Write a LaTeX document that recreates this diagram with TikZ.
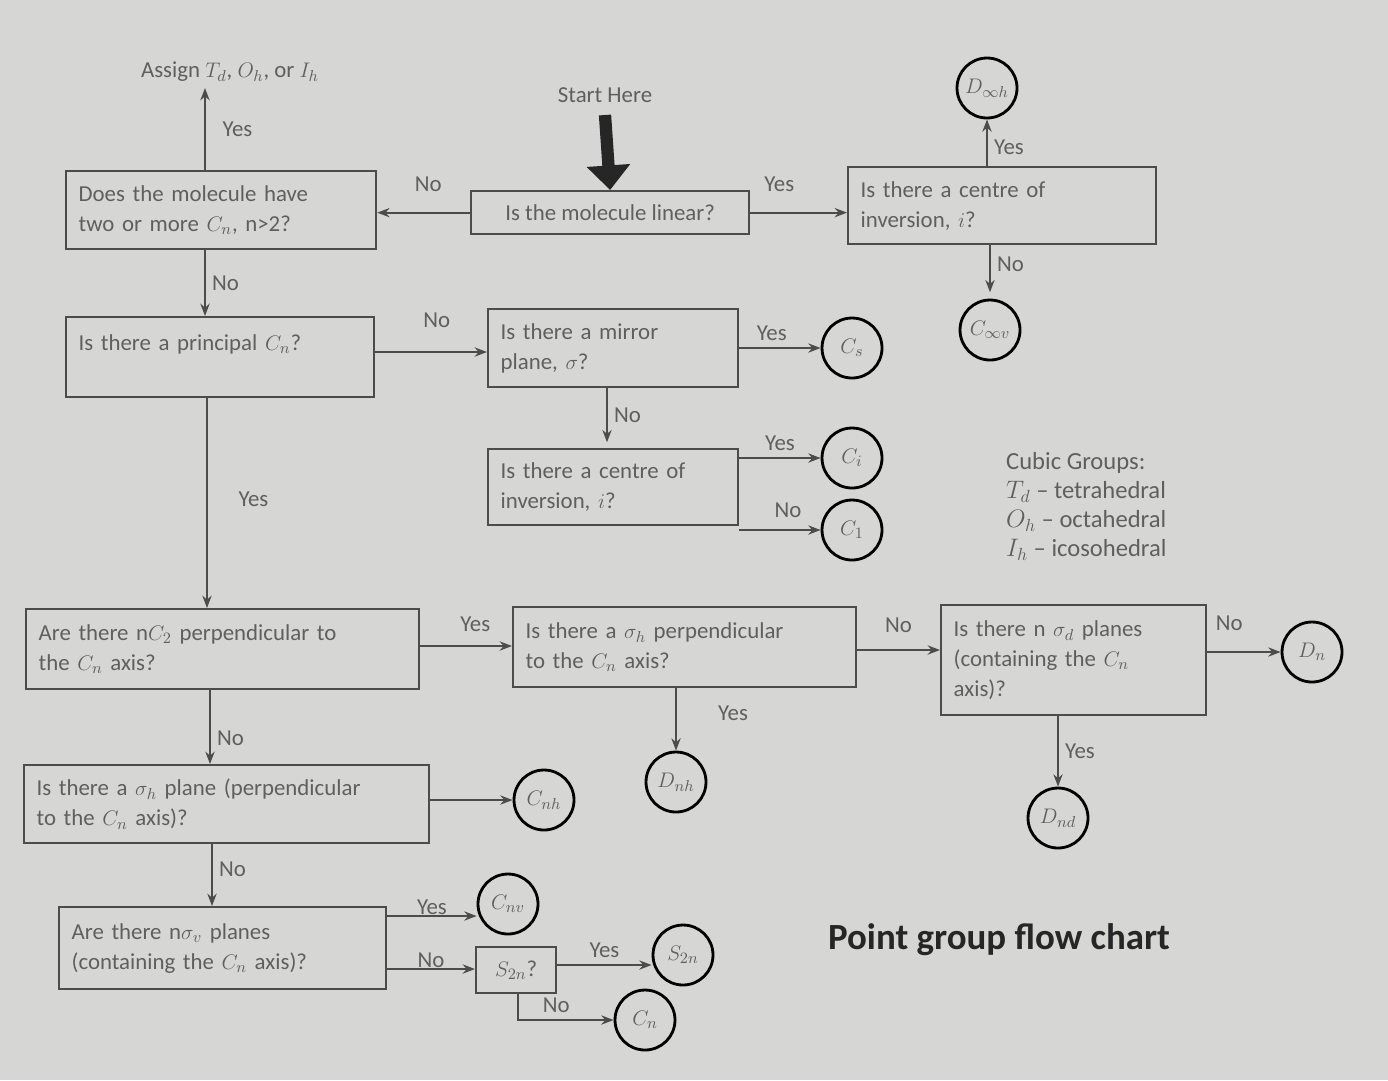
\documentclass[tikz,border=0pt]{standalone}
\usepackage{fontspec}
\setmainfont{Carlito}
\usetikzlibrary{calc,arrows.meta}
\definecolor{bg}{RGB}{214,214,212}
\definecolor{ink}{RGB}{95,95,95}
\begin{document}
\begin{tikzpicture}[x=0.02cm,y=-0.02cm,font=\fontsize{13}{17}\selectfont,text=ink,
 box/.style={draw=ink!80!black,line width=1.3pt,anchor=north west,align=left,inner sep=7pt},
 res/.style={circle,draw=black,line width=1.6pt,minimum size=1.2cm,inner sep=0pt},
 arr/.style={draw=ink!80!black,line width=1.3pt,-{Stealth[length=7pt]}},
 lab/.style={text=ink}]
\fill[bg] (0,0) rectangle (1388,1080);
\useasboundingbox (0,0) rectangle (1388,1080);
% boxes
\node[box,minimum width=6.2cm,minimum height=1.56cm,text width=5.7cm] (b1) at (65,170) {Does the molecule have\\two or more $C_n$, n>2?};
\node[box,minimum width=5.56cm,minimum height=0.86cm,align=center] (lin) at (470,190) {Is the molecule linear?};
\node[box,minimum width=6.16cm,minimum height=1.54cm,text width=5.66cm] (inv) at (847,166) {Is there a centre of\\inversion, $i$?};
\node[box,minimum width=6.16cm,minimum height=1.6cm,text width=5.66cm] (pri) at (65,316) {Is there a principal $C_n$?\\\mbox{}};
\node[box,minimum width=5cm,minimum height=1.56cm,text width=4.5cm] (mir) at (487,308) {Is there a mirror\\plane, $\sigma$?};
\node[box,minimum width=5cm,minimum height=1.52cm,text width=4.5cm] (cen) at (487,448) {Is there a centre of\\inversion, $i$?};
\node[box,minimum width=7.86cm,minimum height=1.6cm,text width=7.36cm] (nc2) at (25,608) {Are there n$C_2$ perpendicular to\\the $C_n$ axis?};
\node[box,minimum width=6.86cm,minimum height=1.6cm,text width=6.36cm] (sh) at (512,606) {Is there a $\sigma_h$ perpendicular\\to the $C_n$ axis?};
\node[box,minimum width=5.3cm,minimum height=2.2cm,text width=4.8cm] (sd) at (940,604) {Is there n $\sigma_d$ planes\\(containing the $C_n$\\axis)?};
\node[box,minimum width=8.1cm,minimum height=1.56cm,text width=7.6cm] (shp) at (23,764) {Is there a $\sigma_h$ plane (perpendicular\\to the $C_n$ axis)?};
\node[box,minimum width=6.54cm,minimum height=1.64cm,text width=6.04cm] (sv) at (58,906) {Are there n$\sigma_v$ planes\\(containing the $C_n$ axis)?};
\node[box,minimum width=1.6cm,minimum height=0.92cm,inner sep=3pt,align=center] (s2q) at (475,946) {$S_{2n}$?};
% results
\node[res] (dinfh) at (987,88) {$D_{\infty h}$};
\node[res] (cinfv) at (990,330) {$C_{\infty v}$};
\node[res] (cs) at (852,348) {$C_s$};
\node[res] (ci) at (852,458) {$C_i$};
\node[res] (c1) at (852,530) {$C_1$};
\node[res] (dn) at (1312,652) {$D_n$};
\node[res] (dnh) at (676,782) {$D_{nh}$};
\node[res] (dnd) at (1058,818) {$D_{nd}$};
\node[res] (cnh) at (544,800) {$C_{nh}$};
\node[res] (cnv) at (508,904) {$C_{nv}$};
\node[res] (s2n) at (683,955) {$S_{2n}$};
\node[res] (cn) at (645,1020) {$C_n$};
% texts
\node (assign) at (230,72) {Assign $T_d$, $O_h$, or $I_h$};
\node (start) at (605,95) {Start Here};
\node[align=left,anchor=north west,font=\fontsize{14}{16.5}\selectfont] (cubic) at (1000,446) {Cubic Groups:\\$T_d$ -- tetrahedral\\$O_h$ -- octahedral\\$I_h$ -- icosohedral};
\node[text=black!85,font=\fontsize{21}{24}\selectfont\bfseries] (title) at (999,940) {Point group flow chart};
% connectors
\draw[line width=7pt,-{Triangle[length=14pt,width=24pt]},draw=black!85,fill=black!85] (start) ++(0,20) coordinate (st) (st) -- (lin.north);
\draw[arr] (b1.north -| 205,0) -- node[lab,right,xshift=6pt]{Yes} (assign.south -| 205,0);
\draw[arr] (lin) -- node[lab,above,pos=0.45,yshift=8pt]{No} (b1.east |- lin);
\draw[arr] (lin) -- node[lab,above,pos=0.3,yshift=8pt]{Yes} (inv.west |- lin);
\draw[arr] (inv.north -| dinfh) -- node[lab,right,pos=0.4]{Yes} (dinfh);
\draw[arr] (inv.south -| cinfv) -- node[lab,right,pos=0.4]{No} ++(0,47);
\draw[arr] (b1.south -| 205,0) -- node[lab,right]{No} (pri.north -| 205,0);
\draw[arr] (pri.east |- 0,352) -- node[lab,above,pos=0.55,yshift=10pt]{No} (mir.west |- 0,352);
\draw[arr] (mir.east |- cs) -- node[lab,above,pos=0.4]{Yes} (cs);
\draw[arr] (mir.south -| 607,0) -- node[lab,right]{No} ++(0,54);
\draw[arr] (cen.east |- ci) -- node[lab,above,pos=0.5]{Yes} (ci);
\draw[arr] (cen.east |- c1) -- node[lab,above,pos=0.6,yshift=3pt]{No} (c1);
\draw[arr] (pri.south -| 207,0) -- node[lab,right,pos=0.48,xshift=14pt]{Yes} (nc2.north -| 207,0);
\draw[arr] (nc2.east |- 0,646) -- node[lab,above,pos=0.6,yshift=4pt]{Yes} (sh.west |- 0,646);
\draw[arr] (sh.east |- 0,650) -- node[lab,above,pos=0.5,yshift=6pt]{No} (sd.west |- 0,650);
\draw[arr] (sd.east |- dn) -- node[lab,above,pos=0.3,yshift=8pt]{No} (dn);
\draw[arr] (sh.south -| dnh) -- node[lab,right,pos=0.4,xshift=20pt]{Yes} (dnh);
\draw[arr] (sd.south -| dnd) -- node[lab,right,pos=0.5]{Yes} (dnd);
\draw[arr] (nc2.south -| 210,0) -- node[lab,right,pos=0.65]{No} (shp.north -| 210,0);
\draw[arr] (shp.east |- cnh) -- (cnh);
\draw[arr] (shp.south -| 212,0) -- node[lab,right,pos=0.4]{No} (sv.north -| 212,0);
\coordinate (cnvin) at (480,916);
\draw[arr] (sv.east |- cnvin) -- node[lab,above,pos=0.5,yshift=-3pt]{Yes} (cnv.west |- cnvin);
\draw[arr] (sv.east |- 0,969) -- node[lab,above,pos=0.5,yshift=-3pt]{No} (s2q.west |- 0,969);
\draw[arr] (s2q.east |- s2n) ++(0,10) coordinate (sq) (sq) -- node[lab,above,pos=0.5]{Yes} (s2n.west |- sq);
\draw[arr] (s2q.south -| 518,0) |- node[lab,above,pos=0.7]{No} (cn.west);
\end{tikzpicture}
\end{document}
